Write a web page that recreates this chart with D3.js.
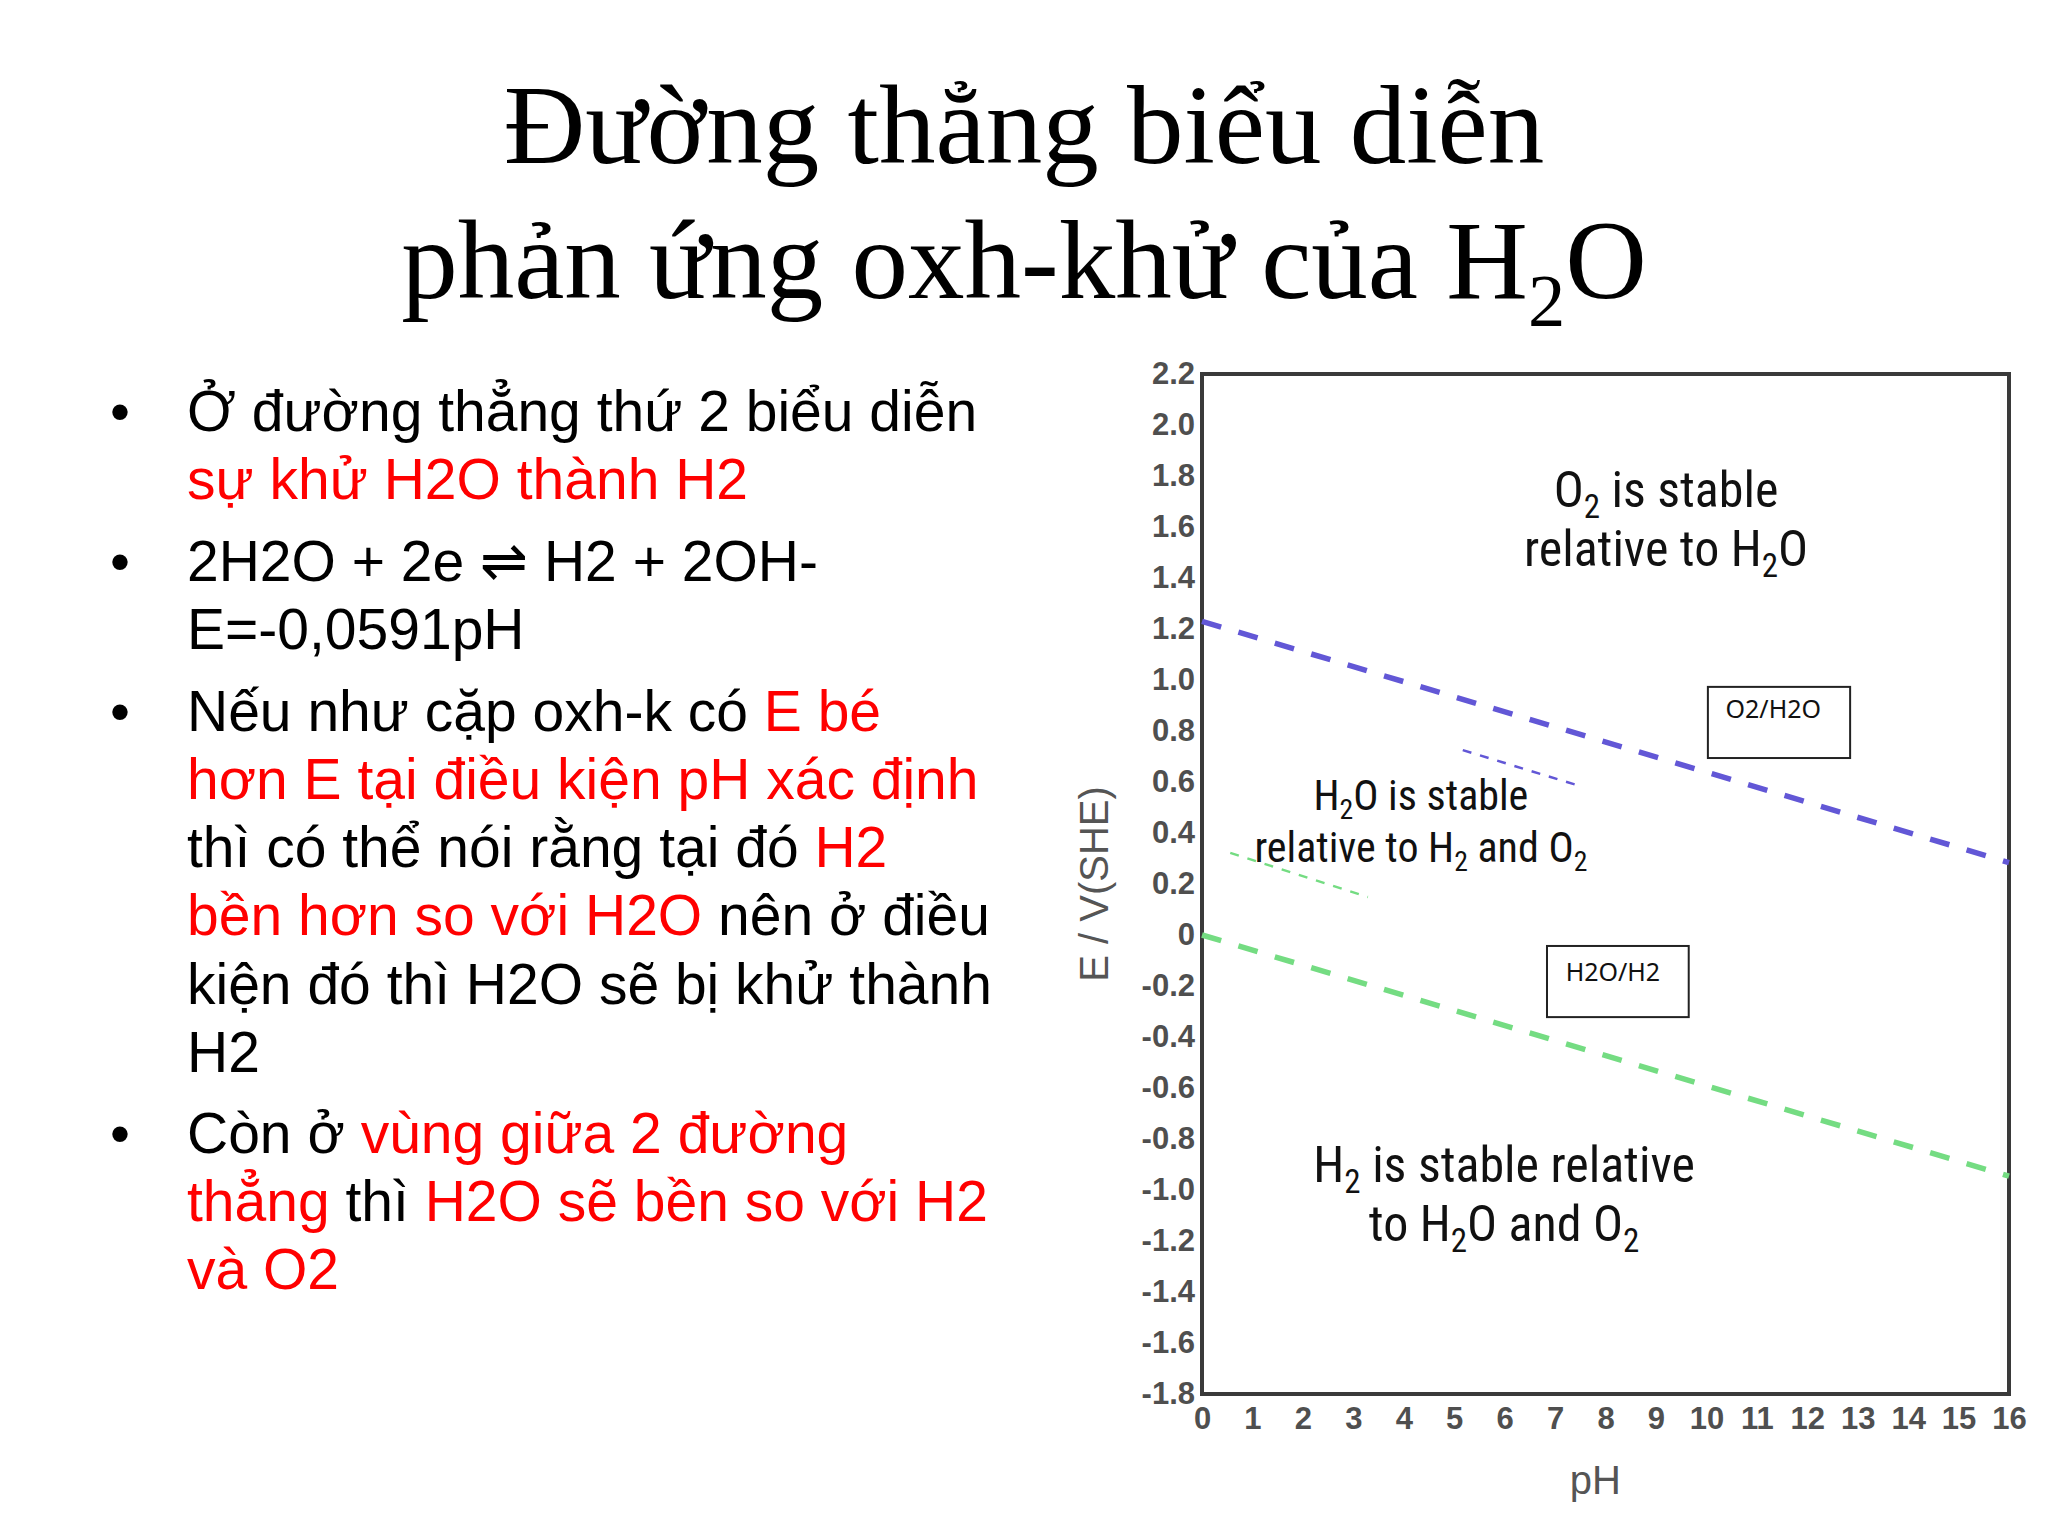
<!DOCTYPE html>
<html>
<head>
<meta charset="utf-8">
<script src="https://cdn.jsdelivr.net/npm/d3@7"></script>
<style>
  html, body { margin: 0; padding: 0; background: #fff; }
  svg { display: block; }
</style>
</head>
<body>
<svg id="slide"></svg>
<script>
// data
var phTicks = [0, 1, 2, 3, 4, 5, 6, 7, 8, 9, 10, 11, 12, 13, 14, 15, 16];
var eTicks = [2.2, 2.0, 1.8, 1.6, 1.4, 1.2, 1.0, 0.8, 0.6, 0.4, 0.2, 0, -0.2, -0.4, -0.6, -0.8, -1.0, -1.2, -1.4, -1.6, -1.8];
var o2Line = [[0, 1.23], [16, 0.284]];
var h2Line = [[0, 0], [16, -0.946]];
var o2Short = [[5.17, 0.725], [7.43, 0.588]];
var h2Short = [[0.56, 0.322], [3.29, 0.149]];

var titleLines = [
    [{t: "Đường thẳng biểu diễn"}],
    [{t: "phản ứng oxh-khử của H"}, {t: "2", sub: true}, {t: "O"}]
];

var bulletLines = [
    {bullet: true, parts: [{t: "Ở đường thẳng thứ 2 biểu diễn"}]},
    {parts: [{t: "sự khử H2O thành H2", red: true}]},
    {bullet: true, parts: [{t: "2H2O + 2e ⇌ H2 + 2OH-"}]},
    {parts: [{t: "E=-0,0591pH"}]},
    {bullet: true, parts: [{t: "Nếu như cặp oxh-k có "}, {t: "E bé", red: true}]},
    {parts: [{t: "hơn E tại điều kiện pH xác định", red: true}]},
    {parts: [{t: "thì có thể nói rằng tại đó "}, {t: "H2", red: true}]},
    {parts: [{t: "bền hơn so với H2O", red: true}, {t: " nên ở điều"}]},
    {parts: [{t: "kiện đó thì H2O sẽ bị khử thành"}]},
    {parts: [{t: "H2"}]},
    {bullet: true, parts: [{t: "Còn ở "}, {t: "vùng giữa 2 đường", red: true}]},
    {parts: [{t: "thẳng", red: true}, {t: " thì "}, {t: "H2O sẽ bền so với H2", red: true}]},
    {parts: [{t: "và O2", red: true}]}
];

var regionLabels = [
    {lines: [[{t: "O"}, {t: "2", sub: true}, {t: " is stable"}],
             [{t: "relative to H"}, {t: "2", sub: true}, {t: "O"}]]},
    {lines: [[{t: "H"}, {t: "2", sub: true}, {t: "O is stable"}],
             [{t: "relative to H"}, {t: "2", sub: true}, {t: " and O"}, {t: "2", sub: true}]]},
    {lines: [[{t: "H"}, {t: "2", sub: true}, {t: " is stable relative"}],
             [{t: "to H"}, {t: "2", sub: true}, {t: "O and O"}, {t: "2", sub: true}]]}
];
var boxLabels = ["O2/H2O", "H2O/H2"];

// layout
var W = 2048, H = 1536;
var plot = {left: 1202, right: 2009, top: 374, bottom: 1394};
var narrow = "'Liberation Sans Narrow', 'Roboto Condensed', 'DejaVu Sans Condensed', 'Arial Narrow', sans-serif";
var sans = "'Liberation Sans', Arial, sans-serif";

var svg = d3.select("#slide")
    .attr("width", W)
    .attr("height", H)
    .attr("viewBox", "0 0 " + W + " " + H);

function addRich(sel, parts, fontSize, subShift) {
    parts.forEach(function (p, i) {
        var prev = i > 0 ? parts[i - 1] : null;
        var ts = sel.append("tspan").text(p.t);
        if (p.sub) {
            ts.attr("font-size", fontSize * 0.66).attr("dy", subShift);
        } else if (prev && prev.sub) {
            ts.attr("dy", -subShift);
        }
        if (p.red) ts.attr("fill", "#ff0000");
    });
}

// title
titleLines.forEach(function (line, i) {
    var t = svg.append("text")
        .attr("x", 1024)
        .attr("y", [163, 298][i])
        .attr("text-anchor", "middle")
        .attr("font-family", "'Liberation Serif', 'Times New Roman', serif")
        .attr("font-size", 113)
        .attr("fill", "#000");
    addRich(t, line, 113, 28);
});

// bullet text
var bulletY = [431, 499, 581, 649, 731, 799, 867, 935, 1004, 1072, 1153, 1221, 1289];
var textGroup = svg.append("g")
    .attr("font-family", sans)
    .attr("font-size", 57)
    .attr("fill", "#000");

bulletLines.forEach(function (line, i) {
    if (line.bullet) {
        textGroup.append("text")
            .attr("x", 120)
            .attr("y", bulletY[i])
            .attr("text-anchor", "middle")
            .text("•");
    }
    var t = textGroup.append("text")
        .attr("x", 187)
        .attr("y", bulletY[i]);
    addRich(t, line.parts, 57, 0);
});

// scales
var x = d3.scaleLinear().domain([0, 16]).range([plot.left, plot.right]);
var y = d3.scaleLinear().domain([-1.8, 2.2]).range([plot.bottom, plot.top]);

var chart = svg.append("g").attr("class", "chart");

// axes
var yAxis = d3.axisLeft(y)
    .tickValues(eTicks)
    .tickSize(0)
    .tickPadding(7)
    .tickFormat(function (d) { return d === 0 ? "0" : d.toFixed(1); });

var xAxis = d3.axisBottom(x)
    .tickValues(phTicks)
    .tickSize(0)
    .tickPadding(13)
    .tickFormat(function (d) { return String(d); });

var gy = chart.append("g")
    .attr("class", "y axis")
    .attr("transform", "translate(" + plot.left + ",0)")
    .call(yAxis);

var gx = chart.append("g")
    .attr("class", "x axis")
    .attr("transform", "translate(0," + plot.bottom + ")")
    .call(xAxis);

[gx, gy].forEach(function (g) {
    g.select(".domain").remove();
    g.selectAll("text")
        .attr("font-family", sans)
        .attr("font-weight", "bold")
        .attr("font-size", 31)
        .attr("fill", "#4f4f4f");
});

// frame
chart.append("rect")
    .attr("x", x(0))
    .attr("y", y(2.2))
    .attr("width", x(16) - x(0))
    .attr("height", y(-1.8) - y(2.2))
    .attr("fill", "none")
    .attr("stroke", "#3a3a3a")
    .attr("stroke-width", 4);

// axis titles
chart.append("text")
    .attr("transform", "translate(1108," + y(0.2) + ") rotate(-90)")
    .attr("text-anchor", "middle")
    .attr("font-family", sans)
    .attr("font-size", 40)
    .attr("fill", "#555")
    .text("E / V(SHE)");

chart.append("text")
    .attr("x", x(7.8))
    .attr("y", 1494)
    .attr("text-anchor", "middle")
    .attr("font-family", sans)
    .attr("font-size", 40)
    .attr("fill", "#555")
    .text("pH");

// lines
var line = d3.line()
    .x(function (d) { return x(d[0]); })
    .y(function (d) { return y(d[1]); });

var lineStyles = [
    {data: o2Line, color: "#6257d6", width: 5.5, dash: "20,18"},
    {data: h2Line, color: "#74dc82", width: 5.5, dash: "20,18"},
    {data: o2Short, color: "#6257d6", width: 2.5, dash: "9,9"},
    {data: h2Short, color: "#74dc82", width: 2.5, dash: "9,9"}
];

chart.selectAll("path.redox")
    .data(lineStyles)
    .enter()
    .append("path")
    .attr("class", "redox")
    .attr("d", function (d) { return line(d.data); })
    .attr("fill", "none")
    .attr("stroke", function (d) { return d.color; })
    .attr("stroke-width", function (d) { return d.width; })
    .attr("stroke-dasharray", function (d) { return d.dash; });

// region labels
var regionPos = [
    {ph: 9.2, e: [1.678, 1.447], size: 50},
    {ph: 4.34, e: [0.49, 0.286], size: 42},
    {ph: 5.99, e: [-0.969, -1.2], size: 50}
];

regionLabels.forEach(function (lab, i) {
    var pos = regionPos[i];
    lab.lines.forEach(function (parts, j) {
        var t = chart.append("text")
            .attr("x", x(pos.ph))
            .attr("y", y(pos.e[j]))
            .attr("text-anchor", "middle")
            .attr("font-family", narrow)
            .attr("font-size", pos.size)
            .attr("fill", "#111");
        addRich(t, parts, pos.size, pos.size * 0.22);
    });
});

// couple boxes
var boxPos = [
    {ph: [10.03, 12.85], e: [0.973, 0.694], tx: 10.38, ty: 0.852},
    {ph: [6.84, 9.65], e: [-0.043, -0.322], tx: 7.21, ty: -0.18}
];

boxLabels.forEach(function (lab, i) {
    var b = boxPos[i];
    chart.append("rect")
        .attr("x", x(b.ph[0]))
        .attr("y", y(b.e[0]))
        .attr("width", x(b.ph[1]) - x(b.ph[0]))
        .attr("height", y(b.e[1]) - y(b.e[0]))
        .attr("fill", "#fff")
        .attr("stroke", "#222")
        .attr("stroke-width", 2);
    chart.append("text")
        .attr("x", x(b.tx))
        .attr("y", y(b.ty))
        .attr("font-family", "'Noto Sans', 'DejaVu Sans', sans-serif")
        .attr("font-size", 25)
        .attr("fill", "#111")
        .text(lab);
});
</script>
</body>
</html>
